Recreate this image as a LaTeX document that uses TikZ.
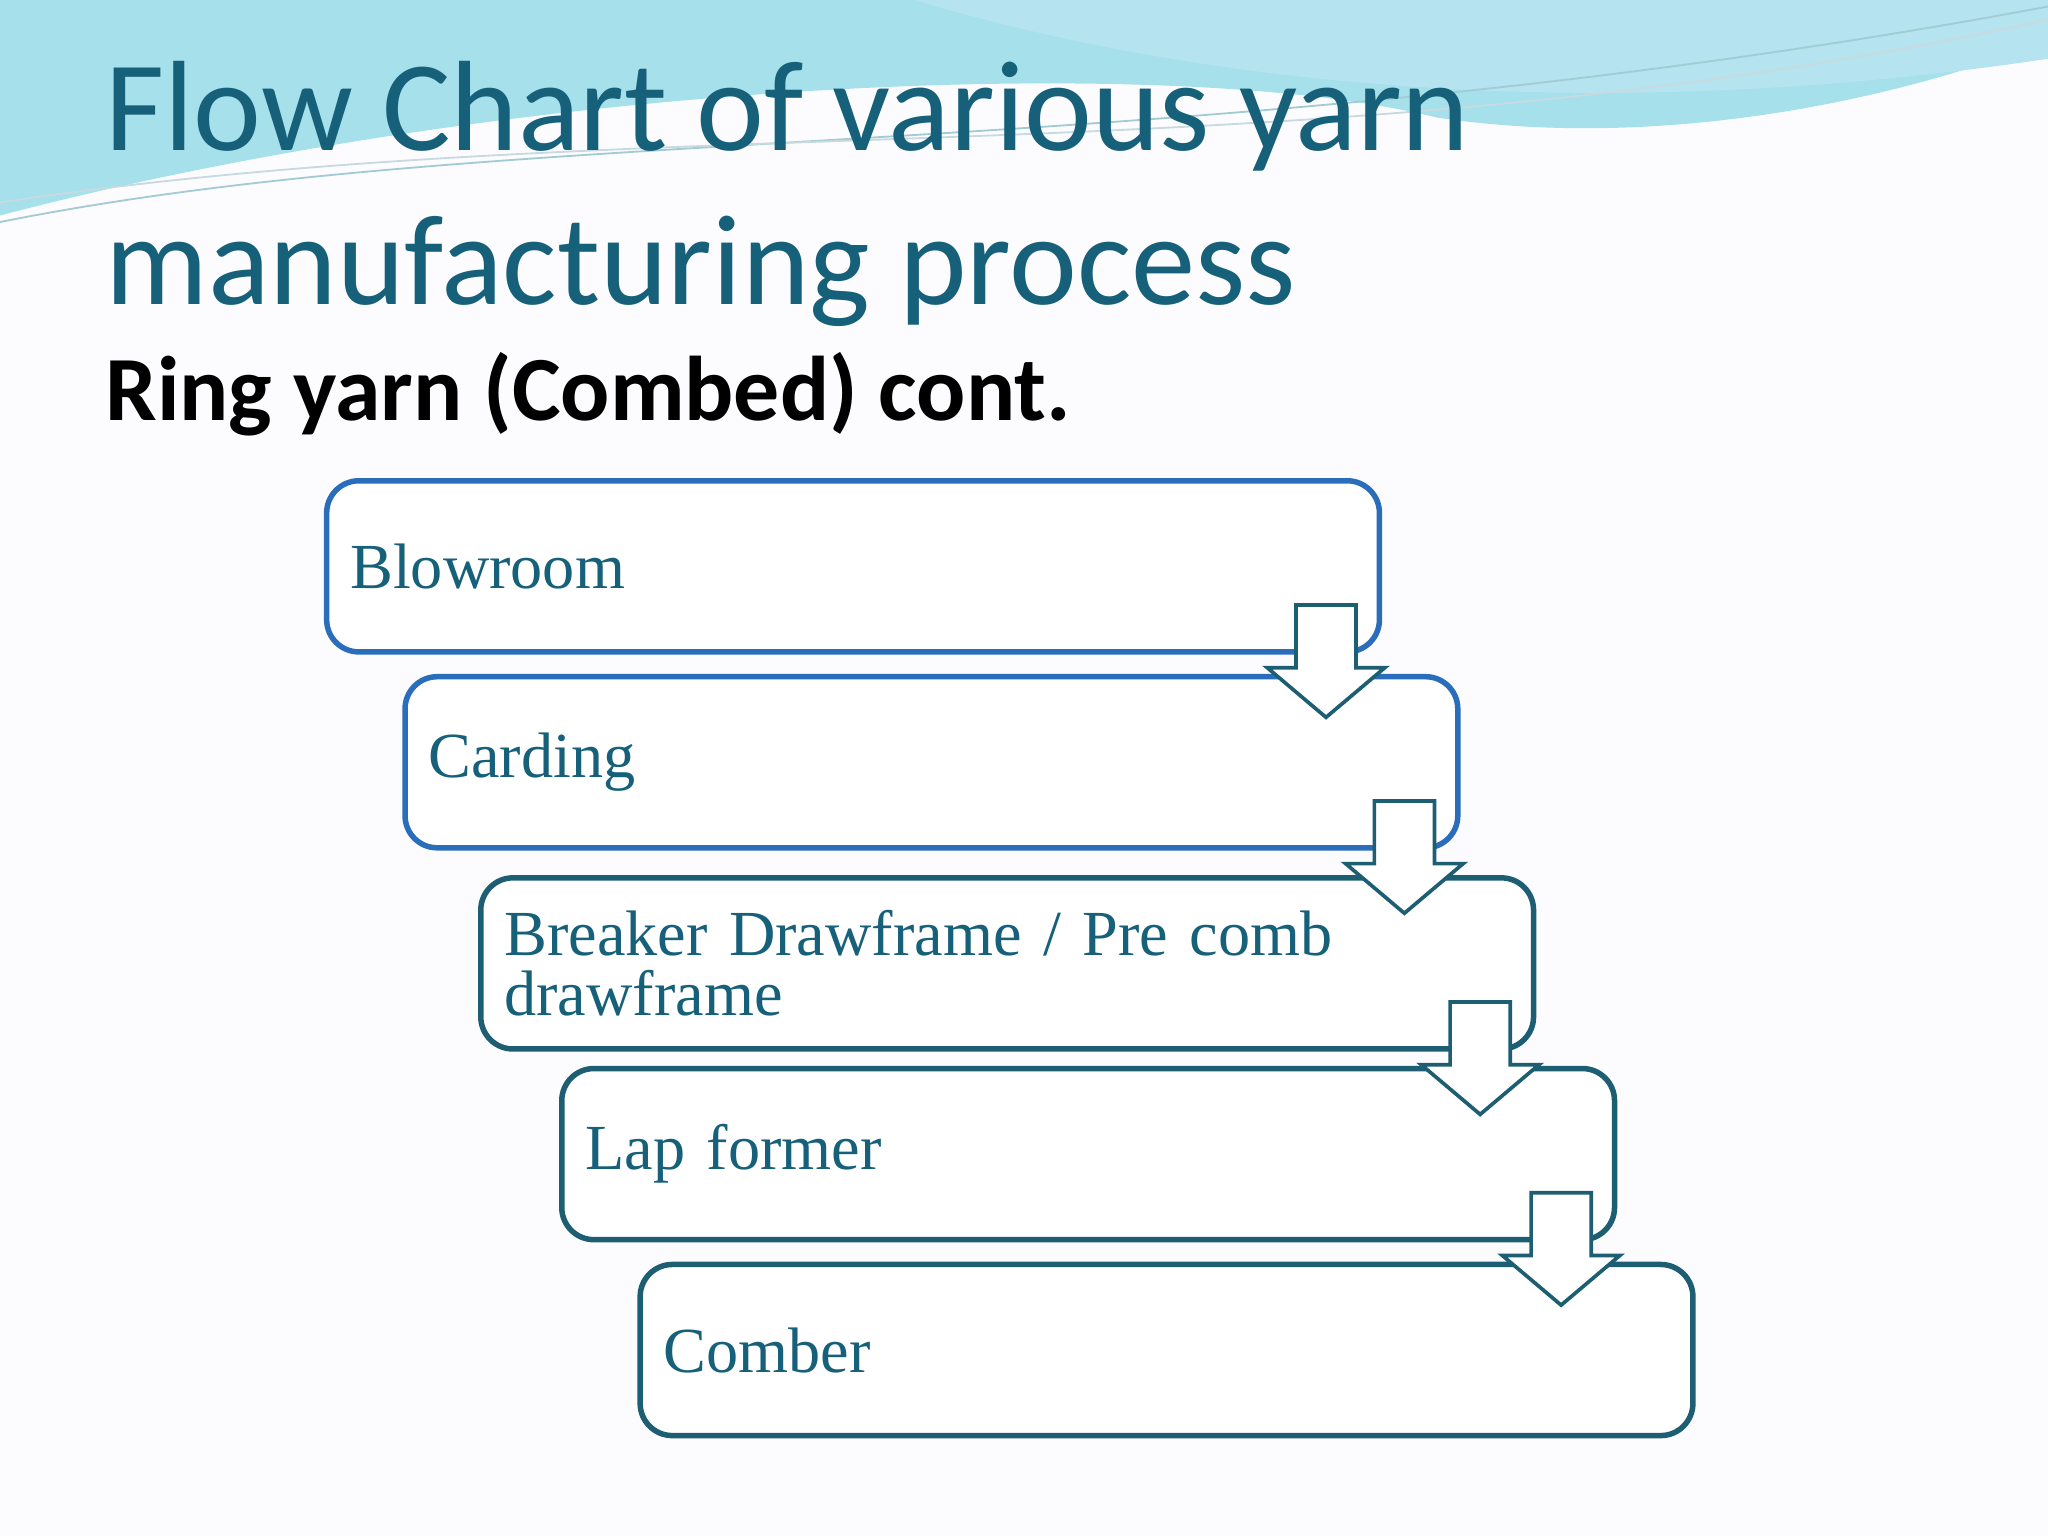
\documentclass[tikz,border=0pt]{standalone}
\usepackage{fontspec}
\setmainfont{Liberation Serif}
\newfontfamily\headfont{Carlito}
\usetikzlibrary{calc}
\definecolor{tealtxt}{HTML}{16607A}
\definecolor{boxblue}{HTML}{2A6EBB}
\definecolor{boxteal}{HTML}{1D5E72}
\definecolor{wavea}{HTML}{7FD3E3}
\definecolor{waveb}{HTML}{B5E3F0}
\tikzset{
  stepbox/.style={draw, very thick, rounded corners=7pt, fill=white, minimum width=8.05cm,
    minimum height=1.31cm, text width=7.7cm, align=left, font=\fontsize{14}{16}\selectfont,
    text=tealtxt, inner xsep=0.18cm},
  downarrow/.style={draw=boxteal, thick, fill=white, line join=miter}
}
\newcommand{\blockarrow}[1]{%
  \draw[downarrow] ($(#1)+(-0.23,0.48)$) -- ++(0.46,0) -- ++(0,-0.48) -- ++(0.22,0)
    -- ++(-0.45,-0.38) -- ++(-0.45,0.38) -- ++(0.22,0) -- cycle;}
\begin{document}
\begin{tikzpicture}
  \useasboundingbox[fill=white!96!blue!30!white] (0,0) rectangle (15.68,-11.76);
  % Waves
  \fill[wavea!70] (0,0) -- (0,-1.65) .. controls (4,-0.6) and (9,-0.4) .. (11,-0.9)
    .. controls (13,-1.2) and (15,-0.6) .. (15.68,-0.3) -- (15.68,0) -- cycle;
  \fill[waveb] (7,0) .. controls (9,-0.6) and (12,-1.0) .. (15.68,-0.45) -- (15.68,0) -- cycle;
  \draw[wavea!80!black!60, thin] (0,-1.7) .. controls (4,-0.9) and (9,-1.3) .. (15.68,-0.05);
  \draw[waveb!80!black!50, thin] (0,-1.55) .. controls (5,-0.8) and (10,-1.4) .. (15.68,-0.15);
  % Titles
  \node[anchor=base west, text=tealtxt, font=\headfont\fontsize{28}{30}\selectfont, inner sep=0]
    (title1) at (0.8,-1.15) {Flow Chart of various yarn};
  \node[anchor=base west, text=tealtxt, font=\headfont\fontsize{28}{30}\selectfont, inner sep=0]
    (title2) at (0.8,-2.33) {manufacturing process};
  \node[anchor=base west, font=\headfont\bfseries\fontsize{20}{22}\selectfont, inner sep=0]
    (sub) at (0.8,-3.22) {Ring yarn (Combed) cont.};
  % Boxes
  \node[stepbox, draw=boxblue, anchor=north west] (blow) at (2.48,-3.66) {Blowroom};
  \node[stepbox, draw=boxblue, anchor=north west] (card) at (3.08,-5.16) {Carding};
  \node[stepbox, draw=boxteal, anchor=north west] (draw) at (3.66,-6.70)
    {\raggedright Breaker Drawframe / Pre comb\\[-3pt]drawframe};
  \node[stepbox, draw=boxteal, anchor=north west] (lap) at (4.28,-8.16) {Lap former};
  \node[stepbox, draw=boxteal, anchor=north west] (comb) at (4.88,-9.66) {Comber};
  % Arrows
  \coordinate (a1) at ($(blow.south east)+(-0.43,-0.10)$);
  \coordinate (a2) at ($(card.south east)+(-0.43,-0.10)$);
  \coordinate (a3) at ($(draw.south east)+(-0.43,-0.10)$);
  \coordinate (a4) at ($(lap.south east)+(-0.43,-0.10)$);
  \blockarrow{a1}
  \blockarrow{a2}
  \blockarrow{a3}
  \blockarrow{a4}
\end{tikzpicture}
\end{document}
